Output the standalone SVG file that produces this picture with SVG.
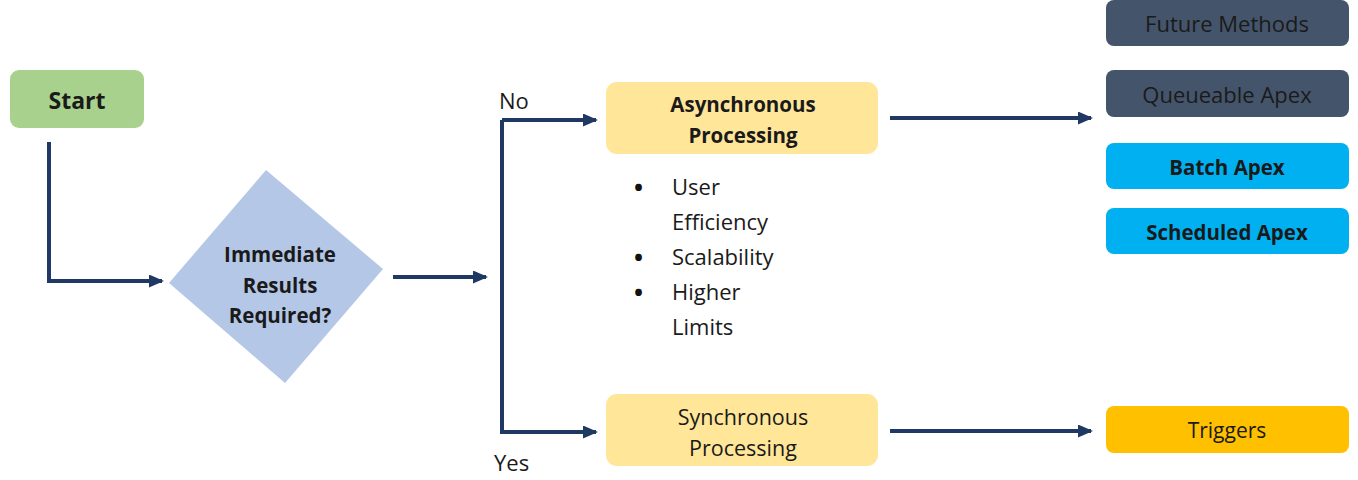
<svg xmlns="http://www.w3.org/2000/svg" width="1358" height="480" viewBox="0 0 1358 480">
<defs>
<marker id="ah" markerWidth="15" markerHeight="13" refX="13" refY="6.5" orient="auto" markerUnits="userSpaceOnUse"><path d="M0,0 L15,6.5 L0,13 z" fill="#1f3864"/></marker>
<style>
.t{font-family:"Open Sans","Liberation Sans",sans-serif;fill:#1a1a1a;text-anchor:middle;dominant-baseline:central}
.b{font-weight:bold}
.c{fill:none;stroke:#1f3864;stroke-width:4}
.l{font-family:"Open Sans","Liberation Sans",sans-serif;fill:#1a1a1a;font-size:22px;dominant-baseline:central}
.d{font-family:"Open Sans","Liberation Sans",sans-serif;fill:#111;font-size:24px;font-weight:bold;dominant-baseline:central}
</style>
</defs>
<rect width="1358" height="480" fill="#fff"/>
<g id="connectors">
<polyline class="c" points="49,142 49,281 162,281" marker-end="url(#ah)"/>
<line class="c" x1="393" y1="277" x2="486" y2="277" marker-end="url(#ah)"/>
<polyline class="c" points="596,432 502,432 502,120" />
<line class="c" x1="502" y1="432" x2="596" y2="432" marker-end="url(#ah)"/>
<line class="c" x1="502" y1="120" x2="596" y2="120" marker-end="url(#ah)"/>
<line class="c" x1="890" y1="118" x2="1091" y2="118" marker-end="url(#ah)"/>
<line class="c" x1="890" y1="431" x2="1091" y2="431" marker-end="url(#ah)"/>
<text class="l" x="499" y="100">No</text>
<text class="l" x="494" y="462">Yes</text>
</g>
<g id="start">
<rect x="10" y="70" width="134" height="58" rx="9" fill="#a9d18e"/>
<text class="t b" x="77" y="100" font-size="23">Start</text>
</g>
<g id="decision">
<polygon points="266,170 383,269 285,383 169,283" fill="#b4c7e7"/>
<text class="t b" x="280" y="254" font-size="20.5">Immediate</text>
<text class="t b" x="280" y="285" font-size="20.5">Results</text>
<text class="t b" x="280" y="315" font-size="20.5">Required?</text>
</g>
<g id="async">
<rect x="606" y="82" width="272" height="72" rx="11" fill="#ffe699"/>
<text class="t b" x="743" y="104" font-size="20.5">Asynchronous</text>
<text class="t b" x="743" y="135" font-size="20.5">Processing</text>
</g>
<g id="benefits">
<text class="d" x="634" y="186">•</text>
<text class="l" x="672" y="186" font-size="24">User</text>
<text class="l" x="672" y="221" font-size="24">Efficiency</text>
<text class="d" x="634" y="256">•</text>
<text class="l" x="672" y="256" font-size="24">Scalability</text>
<text class="d" x="634" y="291">•</text>
<text class="l" x="672" y="291" font-size="24">Higher</text>
<text class="l" x="672" y="326" font-size="24">Limits</text>
</g>
<g id="sync">
<rect x="606" y="394" width="272" height="72" rx="11" fill="#ffe699"/>
<text class="t" x="743" y="416" font-size="21.5">Synchronous</text>
<text class="t" x="743" y="447" font-size="21.5">Processing</text>
</g>
<g id="future">
<rect x="1106" y="0" width="243" height="46" rx="8" fill="#44546a"/>
<text class="t" x="1227" y="23" font-size="22">Future Methods</text>
</g>
<g id="queueable">
<rect x="1106" y="70" width="243" height="47" rx="8" fill="#44546a"/>
<text class="t" x="1227" y="94" font-size="22">Queueable Apex</text>
</g>
<g id="batch">
<rect x="1106" y="143" width="243" height="46" rx="8" fill="#00b0f0"/>
<text class="t b" x="1227" y="167" font-size="20.5">Batch Apex</text>
</g>
<g id="scheduled">
<rect x="1106" y="208" width="243" height="46" rx="8" fill="#00b0f0"/>
<text class="t b" x="1227" y="232" font-size="20.5">Scheduled Apex</text>
</g>
<g id="triggers">
<rect x="1106" y="406" width="243" height="47" rx="8" fill="#ffc000"/>
<text class="t" x="1227" y="430" font-size="21">Triggers</text>
</g>
</svg>
